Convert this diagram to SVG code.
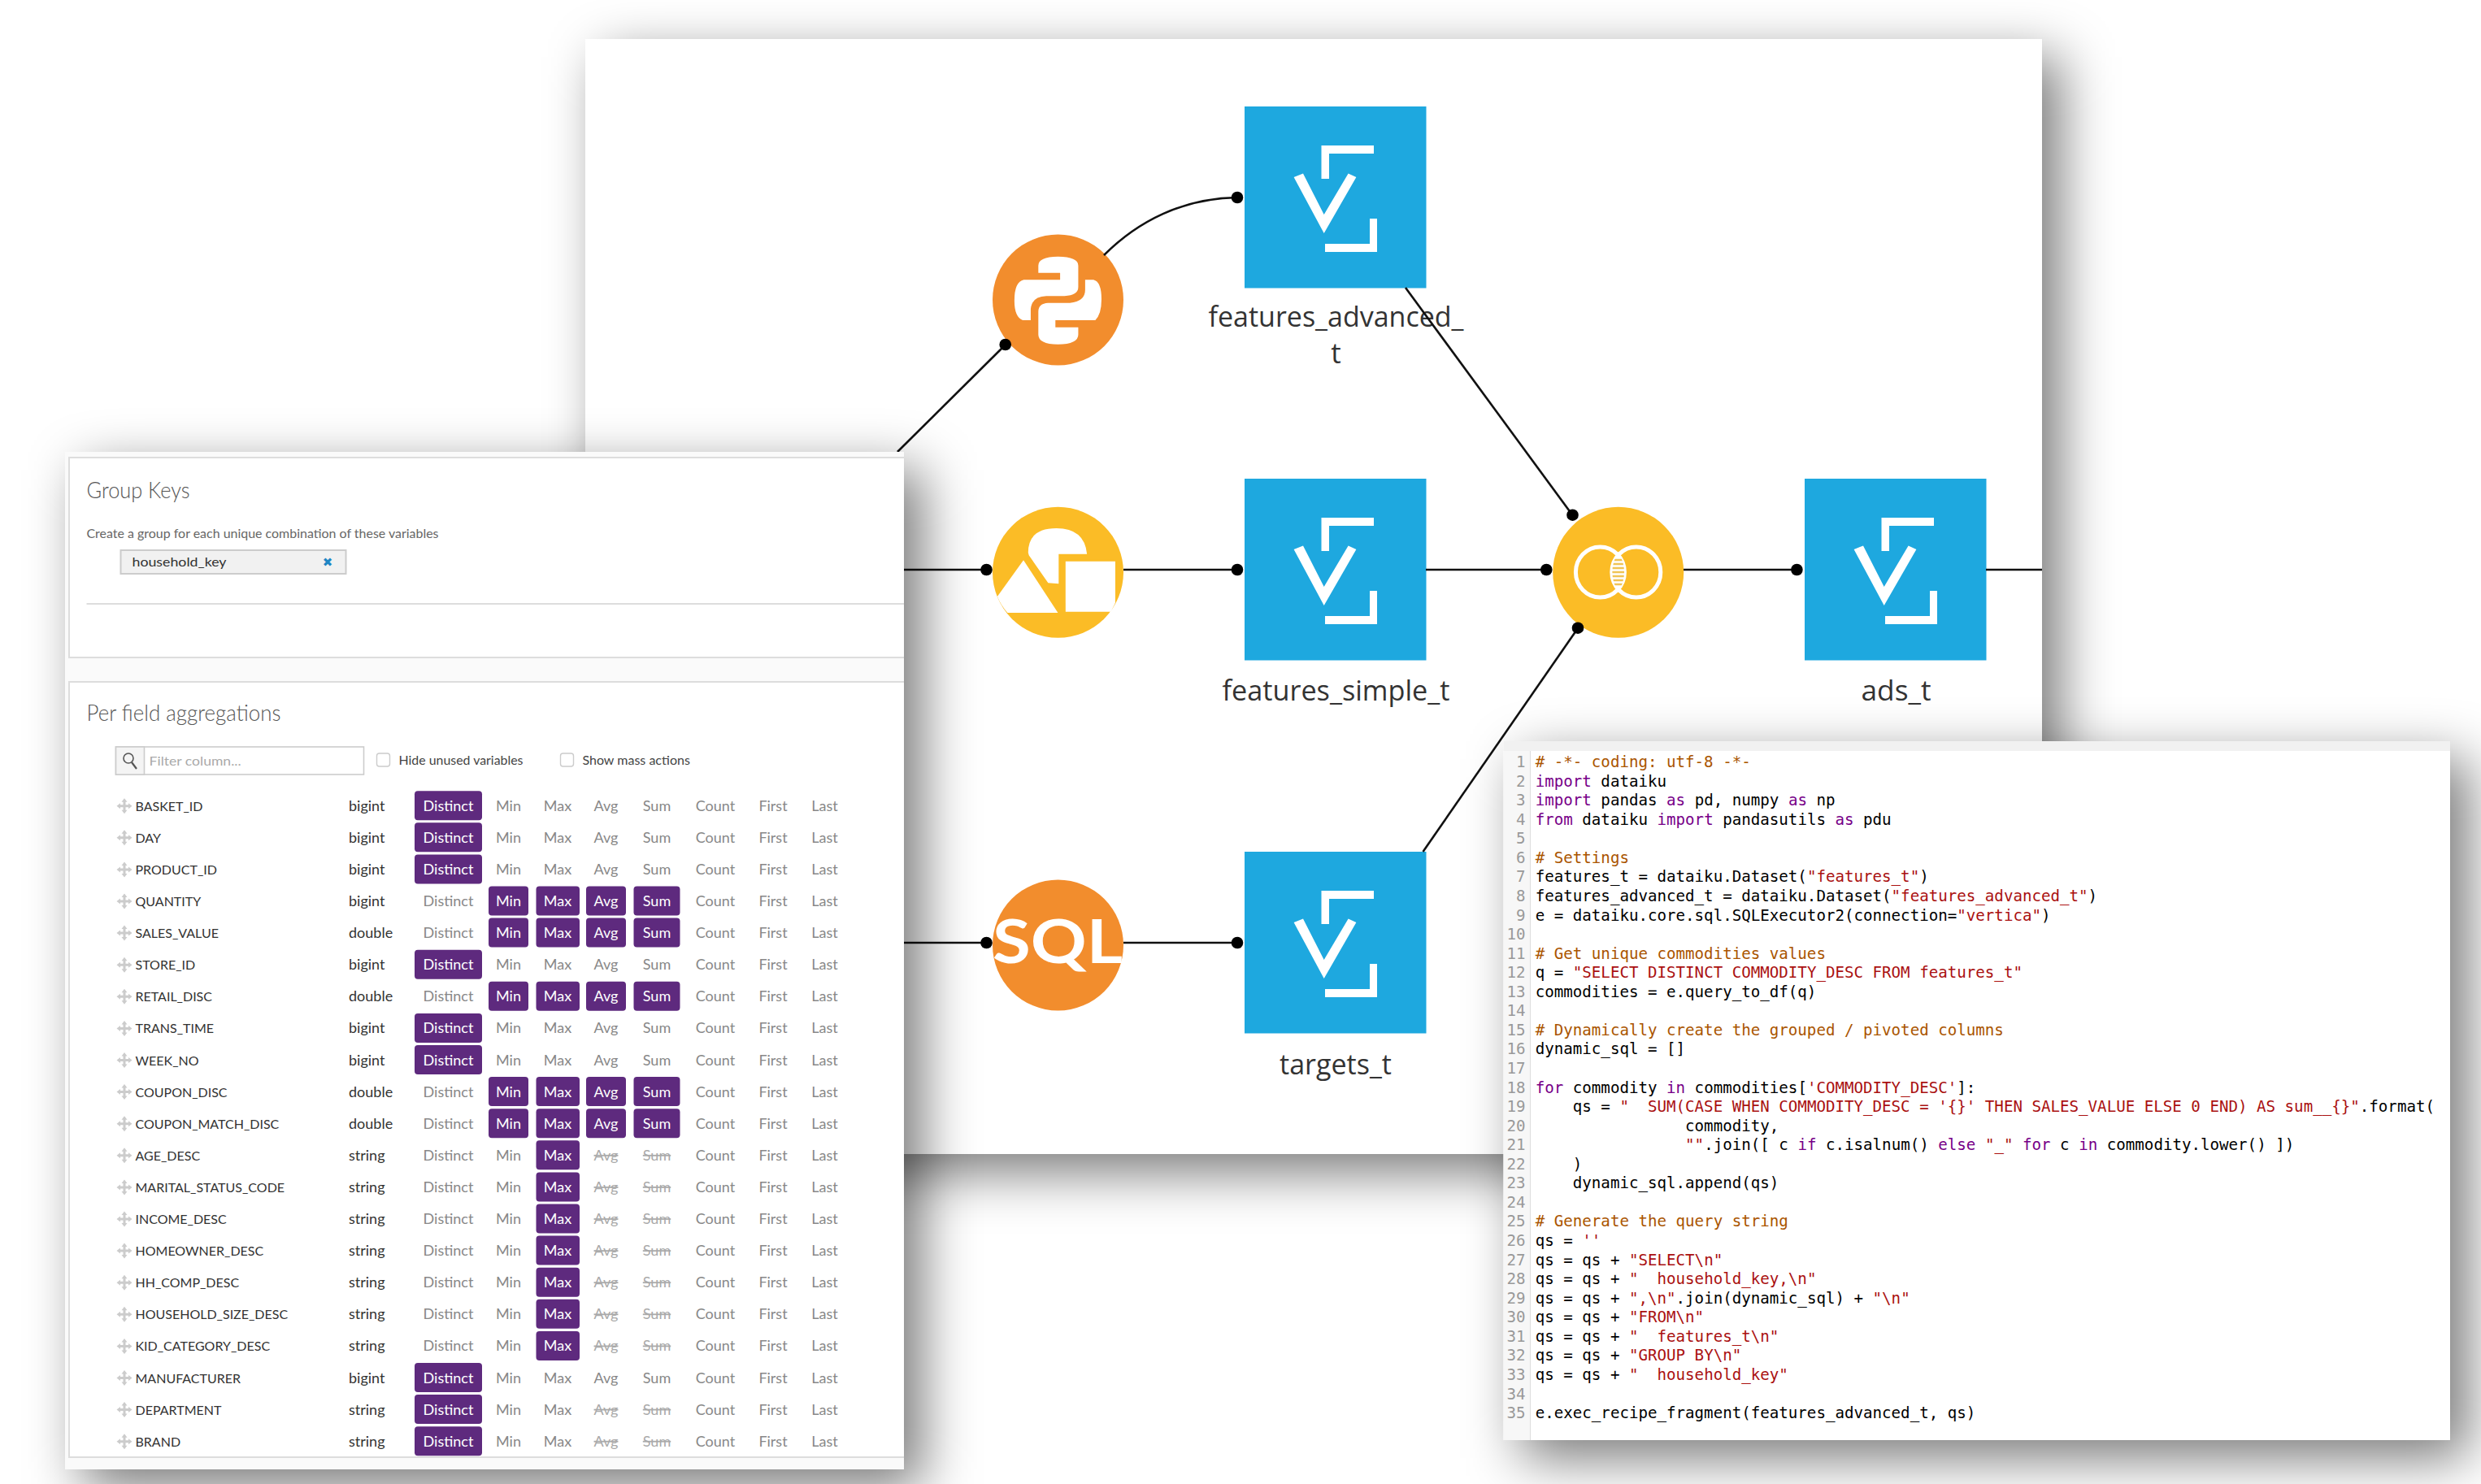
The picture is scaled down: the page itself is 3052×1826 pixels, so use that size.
<svg xmlns="http://www.w3.org/2000/svg" width="3052" height="1826" viewBox="0 0 3052 1826">
<style>
.lb{font-family:"Open Sans","Noto Sans",sans-serif;font-size:35px;fill:#333;text-anchor:middle}
.blue{fill:#1EA8DF}.wh{fill:#fff}.or{fill:#F28D2D}.ye{fill:#FBBC26}
.ln{fill:none;stroke:#111;stroke-width:2.6}
.dot{fill:#000}
.ui{font-family:Lato,"Noto Sans",sans-serif}
.h{font-family:Lato,"Noto Sans",sans-serif;font-weight:300;fill:#555;font-size:27px}
.t{font-family:Lato,"Noto Sans",sans-serif;fill:#444;font-size:16px}
.n{font-family:Lato,"Noto Sans",sans-serif;fill:#333;font-size:16px}
.ty{font-family:Lato,"Noto Sans",sans-serif;fill:#333;font-size:18px}
.o,.w,.s{font-family:Lato,"Noto Sans",sans-serif;font-size:18px;text-anchor:middle}
.o{fill:#888}.w{fill:#fff}.s{fill:#aaa;text-decoration:line-through}
.b{fill:#5E2A7E}
.bd{fill:none;stroke:#ddd;stroke-width:2}
.code{font-family:"DejaVu Sans Mono","Liberation Mono",monospace;font-size:19.15px;fill:#000;white-space:pre}
.g{font-family:"DejaVu Sans Mono","Liberation Mono",monospace;font-size:19.15px;fill:#999;text-anchor:end}
.cm{fill:#a50}.kw{fill:#708}.st{fill:#a11}
</style>
<defs>
<filter id="sh" x="-20%" y="-20%" width="140%" height="140%" color-interpolation-filters="sRGB"><feGaussianBlur stdDeviation="33"/></filter>
<g id="ds"><rect class="blue" width="223.5" height="223.5"/><path class="wh" d="M94.5,48H159V58H104V89H94.5ZM60.6,87L72,82.5L97.7,133L127.6,82.5L137.4,87L97.7,156ZM154,138H163V179H99V169H154Z"/></g>
<path id="mv" fill="#ccc" d="M-1.5,-5H-3.5L0,-9.5L3.5,-5H1.5V-1.5H5V-3.5L9.5,0L5,3.5V1.5H1.5V5H3.5L0,9.5L-3.5,5H-1.5V1.5H-5V3.5L-9.5,0L-5,-3.5V-1.5H-1.5Z"/>
<clipPath id="lens"><path d="M1990.7,679Q1976,704 1990.7,729Q2005.4,704 1990.7,679Z"/></clipPath>
</defs>
<rect width="3052" height="1826" fill="#fff"/>
<g id="flow-panel">
<rect x="742" y="70" width="1792" height="1372" fill="#000" fill-opacity=".53" filter="url(#sh)"/>
<rect x="720" y="48" width="1792" height="1372" fill="#fff"/>
</g>
<g id="nodes">
<g id="node-python"><circle class="or" cx="1301.5" cy="369" r="80.5"/>
<g transform="translate(1180,100) scale(.4464,.3333)"><path class="wh" d="M218,707V680Q218,648 272,647Q328,648 328,680V760Q328,790 290,793H240Q200,795 197,840V882H175Q152,870 152,810Q152,740 178,733H278V707Z"/><path class="wh" d="M265,908V882H375Q392,860 392,805Q392,740 370,733H347V770Q347,812 305,818H245Q218,820 218,850V935Q218,970 272,971Q328,970 328,935V908Z"/></g></g>
<g id="node-shapes"><circle class="ye" cx="1301.5" cy="704.3" r="80.5"/>
<g transform="translate(1180,580) scale(.4464,.3333)"><path class="wh" d="M190,300Q190,210 268,210Q345,210 352,305H274V415L245,412L192,310Z"/><path class="wh" d="M177,328L105,462Q115,495 133,522H272Z"/><path class="wh" d="M293,332H430V485L418,518H293Z"/></g></g>
<g id="node-sql"><circle class="or" cx="1301.5" cy="1163" r="80.5"/>
<text x="1221" y="1185" font-family="Lato,'Noto Sans',sans-serif" font-weight="700" font-size="74" fill="#fff" textLength="160" lengthAdjust="spacingAndGlyphs">SQL</text></g>
<g id="node-join"><circle class="ye" cx="1990.7" cy="704.3" r="80.5"/>
<ellipse cx="1968.4" cy="704" rx="30" ry="31" fill="none" stroke="#fff" stroke-width="5"/><ellipse cx="2012.8" cy="704" rx="30" ry="31" fill="none" stroke="#fff" stroke-width="5"/>
<g clip-path="url(#lens)"><rect x="1975" y="675" width="32" height="60" fill="#fff"/><path d="M1975,689H2007M1975,694H2007M1975,699H2007M1975,704H2007M1975,709H2007M1975,714H2007M1975,719H2007" stroke="#F0C455" stroke-width="2.6"/></g></g>
<g id="node-features-advanced"><use href="#ds" x="1531" y="131"/><text class="lb" x="1643.5" y="402" textLength="314" lengthAdjust="spacingAndGlyphs">features_advanced_</text><text class="lb" x="1643.5" y="447">t</text></g>
<g id="node-features-simple"><use href="#ds" x="1531" y="589"/><text class="lb" x="1643.5" y="862" textLength="280" lengthAdjust="spacingAndGlyphs">features_simple_t</text></g>
<g id="node-targets"><use href="#ds" x="1531" y="1048"/><text class="lb" x="1643" y="1322" textLength="138" lengthAdjust="spacingAndGlyphs">targets_t</text></g>
<g id="node-ads"><use href="#ds" x="2220" y="589"/><text class="lb" x="2332.5" y="862" textLength="86" lengthAdjust="spacingAndGlyphs">ads_t</text></g>
</g>
<g id="connectors">
<path class="ln" d="M1104,556L1237,424"/>
<path class="ln" d="M1358,314C1400,272 1455,244 1522,243"/>
<path class="ln" d="M1100,701H1213.5M1382,701H1522M1754,701H1903M2071,701H2210M2443,701H2512"/>
<path class="ln" d="M1100,1160H1213.5M1382,1160H1522"/>
<path class="ln" d="M1729,354L1934.5,634"/>
<path class="ln" d="M1750.5,1048L1941,773"/>
<circle class="dot" cx="1236.7" cy="424" r="7.3"/><circle class="dot" cx="1522" cy="243" r="7.3"/>
<circle class="dot" cx="1213.5" cy="701" r="7.3"/><circle class="dot" cx="1522" cy="701" r="7.3"/>
<circle class="dot" cx="1213.5" cy="1160" r="7.3"/><circle class="dot" cx="1522" cy="1160" r="7.3"/>
<circle class="dot" cx="1934.5" cy="633.7" r="7.3"/><circle class="dot" cx="1902.3" cy="701" r="7.3"/><circle class="dot" cx="1941" cy="772.7" r="7.3"/><circle class="dot" cx="2210.4" cy="701" r="7.3"/>
</g>
<g id="group-panel">
<rect x="102" y="578" width="1032" height="1252" fill="#000" fill-opacity=".53" filter="url(#sh)"/>
<rect x="80" y="556" width="1032" height="1252" fill="#fafafa"/>
<rect x="85" y="563" width="1027" height="246" fill="#fff"/><path class="bd" d="M1112,563H85V809H1112"/>
<rect x="85" y="839" width="1027" height="954" fill="#fff"/><path class="bd" d="M1112,839H85V1793H1112"/>
<text class="h" x="106.5" y="613" textLength="127" lengthAdjust="spacingAndGlyphs">Group Keys</text>
<text class="t" x="106.5" y="662" style="fill:#666" textLength="433" lengthAdjust="spacingAndGlyphs">Create a group for each unique combination of these variables</text>
<rect x="148.5" y="677" width="277" height="29" fill="#f1f1f1" stroke="#ccc" stroke-width="2"/>
<text class="n" x="162.5" y="697" textLength="116" lengthAdjust="spacingAndGlyphs">household_key</text>
<text x="403" y="697" font-family="'DejaVu Sans',sans-serif" font-size="15" fill="#1f86c4" text-anchor="middle">✖</text>
<path d="M106.5,743H1112" stroke="#ddd" stroke-width="2"/>
<text class="h" x="106.5" y="887" textLength="239" lengthAdjust="spacingAndGlyphs">Per field aggregations</text>
<rect x="142.5" y="919" width="305" height="34" fill="#fff" stroke="#ccc" stroke-width="1.6"/>
<path d="M142.5,919H177.5V953H142.5Z" fill="#f4f4f4" stroke="#ccc" stroke-width="1.6"/>
<circle cx="158" cy="933" r="6" fill="none" stroke="#555" stroke-width="1.6"/><path d="M162,938L168,946" stroke="#555" stroke-width="2.2"/>
<text class="t" x="183.6" y="942" style="fill:#aaa" textLength="113" lengthAdjust="spacingAndGlyphs">Filter column...</text>
<rect x="463.5" y="927" width="16" height="16" rx="3" fill="#fff" stroke="#ccc" stroke-width="1.4"/>
<text class="t" x="490.5" y="941" textLength="153" lengthAdjust="spacingAndGlyphs">Hide unused variables</text>
<rect x="689.5" y="927" width="16" height="16" rx="3" fill="#fff" stroke="#ccc" stroke-width="1.4"/>
<text class="t" x="716.4" y="941" textLength="132.5" lengthAdjust="spacingAndGlyphs">Show mass actions</text>

<g id="row-BASKET_ID" transform="translate(0,991.7)"><use href="#mv" x="153"/><text class="n" x="166.5" y="6">BASKET_ID</text><text class="ty" x="429" y="6">bigint</text><rect class="b" x="510" y="-18.5" width="83" height="36" rx="4"/><text class="w" x="551.5" y="6">Distinct</text><text class="o" x="625.5" y="6">Min</text><text class="o" x="686" y="6">Max</text><text class="o" x="745.5" y="6">Avg</text><text class="o" x="808" y="6">Sum</text><text class="o" x="880" y="6">Count</text><text class="o" x="951" y="6">First</text><text class="o" x="1014.5" y="6">Last</text></g>
<g id="row-DAY" transform="translate(0,1030.8)"><use href="#mv" x="153"/><text class="n" x="166.5" y="6">DAY</text><text class="ty" x="429" y="6">bigint</text><rect class="b" x="510" y="-18.5" width="83" height="36" rx="4"/><text class="w" x="551.5" y="6">Distinct</text><text class="o" x="625.5" y="6">Min</text><text class="o" x="686" y="6">Max</text><text class="o" x="745.5" y="6">Avg</text><text class="o" x="808" y="6">Sum</text><text class="o" x="880" y="6">Count</text><text class="o" x="951" y="6">First</text><text class="o" x="1014.5" y="6">Last</text></g>
<g id="row-PRODUCT_ID" transform="translate(0,1069.9)"><use href="#mv" x="153"/><text class="n" x="166.5" y="6">PRODUCT_ID</text><text class="ty" x="429" y="6">bigint</text><rect class="b" x="510" y="-18.5" width="83" height="36" rx="4"/><text class="w" x="551.5" y="6">Distinct</text><text class="o" x="625.5" y="6">Min</text><text class="o" x="686" y="6">Max</text><text class="o" x="745.5" y="6">Avg</text><text class="o" x="808" y="6">Sum</text><text class="o" x="880" y="6">Count</text><text class="o" x="951" y="6">First</text><text class="o" x="1014.5" y="6">Last</text></g>
<g id="row-QUANTITY" transform="translate(0,1109)"><use href="#mv" x="153"/><text class="n" x="166.5" y="6">QUANTITY</text><text class="ty" x="429" y="6">bigint</text><text class="o" x="551.5" y="6">Distinct</text><rect class="b" x="601" y="-18.5" width="49" height="36" rx="4"/><text class="w" x="625.5" y="6">Min</text><rect class="b" x="659.5" y="-18.5" width="53.5" height="36" rx="4"/><text class="w" x="686" y="6">Max</text><rect class="b" x="721" y="-18.5" width="49" height="36" rx="4"/><text class="w" x="745.5" y="6">Avg</text><rect class="b" x="779.5" y="-18.5" width="57" height="36" rx="4"/><text class="w" x="808" y="6">Sum</text><text class="o" x="880" y="6">Count</text><text class="o" x="951" y="6">First</text><text class="o" x="1014.5" y="6">Last</text></g>
<g id="row-SALES_VALUE" transform="translate(0,1148.1)"><use href="#mv" x="153"/><text class="n" x="166.5" y="6">SALES_VALUE</text><text class="ty" x="429" y="6">double</text><text class="o" x="551.5" y="6">Distinct</text><rect class="b" x="601" y="-18.5" width="49" height="36" rx="4"/><text class="w" x="625.5" y="6">Min</text><rect class="b" x="659.5" y="-18.5" width="53.5" height="36" rx="4"/><text class="w" x="686" y="6">Max</text><rect class="b" x="721" y="-18.5" width="49" height="36" rx="4"/><text class="w" x="745.5" y="6">Avg</text><rect class="b" x="779.5" y="-18.5" width="57" height="36" rx="4"/><text class="w" x="808" y="6">Sum</text><text class="o" x="880" y="6">Count</text><text class="o" x="951" y="6">First</text><text class="o" x="1014.5" y="6">Last</text></g>
<g id="row-STORE_ID" transform="translate(0,1187.2)"><use href="#mv" x="153"/><text class="n" x="166.5" y="6">STORE_ID</text><text class="ty" x="429" y="6">bigint</text><rect class="b" x="510" y="-18.5" width="83" height="36" rx="4"/><text class="w" x="551.5" y="6">Distinct</text><text class="o" x="625.5" y="6">Min</text><text class="o" x="686" y="6">Max</text><text class="o" x="745.5" y="6">Avg</text><text class="o" x="808" y="6">Sum</text><text class="o" x="880" y="6">Count</text><text class="o" x="951" y="6">First</text><text class="o" x="1014.5" y="6">Last</text></g>
<g id="row-RETAIL_DISC" transform="translate(0,1226.3)"><use href="#mv" x="153"/><text class="n" x="166.5" y="6">RETAIL_DISC</text><text class="ty" x="429" y="6">double</text><text class="o" x="551.5" y="6">Distinct</text><rect class="b" x="601" y="-18.5" width="49" height="36" rx="4"/><text class="w" x="625.5" y="6">Min</text><rect class="b" x="659.5" y="-18.5" width="53.5" height="36" rx="4"/><text class="w" x="686" y="6">Max</text><rect class="b" x="721" y="-18.5" width="49" height="36" rx="4"/><text class="w" x="745.5" y="6">Avg</text><rect class="b" x="779.5" y="-18.5" width="57" height="36" rx="4"/><text class="w" x="808" y="6">Sum</text><text class="o" x="880" y="6">Count</text><text class="o" x="951" y="6">First</text><text class="o" x="1014.5" y="6">Last</text></g>
<g id="row-TRANS_TIME" transform="translate(0,1265.4)"><use href="#mv" x="153"/><text class="n" x="166.5" y="6">TRANS_TIME</text><text class="ty" x="429" y="6">bigint</text><rect class="b" x="510" y="-18.5" width="83" height="36" rx="4"/><text class="w" x="551.5" y="6">Distinct</text><text class="o" x="625.5" y="6">Min</text><text class="o" x="686" y="6">Max</text><text class="o" x="745.5" y="6">Avg</text><text class="o" x="808" y="6">Sum</text><text class="o" x="880" y="6">Count</text><text class="o" x="951" y="6">First</text><text class="o" x="1014.5" y="6">Last</text></g>
<g id="row-WEEK_NO" transform="translate(0,1304.5)"><use href="#mv" x="153"/><text class="n" x="166.5" y="6">WEEK_NO</text><text class="ty" x="429" y="6">bigint</text><rect class="b" x="510" y="-18.5" width="83" height="36" rx="4"/><text class="w" x="551.5" y="6">Distinct</text><text class="o" x="625.5" y="6">Min</text><text class="o" x="686" y="6">Max</text><text class="o" x="745.5" y="6">Avg</text><text class="o" x="808" y="6">Sum</text><text class="o" x="880" y="6">Count</text><text class="o" x="951" y="6">First</text><text class="o" x="1014.5" y="6">Last</text></g>
<g id="row-COUPON_DISC" transform="translate(0,1343.6)"><use href="#mv" x="153"/><text class="n" x="166.5" y="6">COUPON_DISC</text><text class="ty" x="429" y="6">double</text><text class="o" x="551.5" y="6">Distinct</text><rect class="b" x="601" y="-18.5" width="49" height="36" rx="4"/><text class="w" x="625.5" y="6">Min</text><rect class="b" x="659.5" y="-18.5" width="53.5" height="36" rx="4"/><text class="w" x="686" y="6">Max</text><rect class="b" x="721" y="-18.5" width="49" height="36" rx="4"/><text class="w" x="745.5" y="6">Avg</text><rect class="b" x="779.5" y="-18.5" width="57" height="36" rx="4"/><text class="w" x="808" y="6">Sum</text><text class="o" x="880" y="6">Count</text><text class="o" x="951" y="6">First</text><text class="o" x="1014.5" y="6">Last</text></g>
<g id="row-COUPON_MATCH_DISC" transform="translate(0,1382.7)"><use href="#mv" x="153"/><text class="n" x="166.5" y="6">COUPON_MATCH_DISC</text><text class="ty" x="429" y="6">double</text><text class="o" x="551.5" y="6">Distinct</text><rect class="b" x="601" y="-18.5" width="49" height="36" rx="4"/><text class="w" x="625.5" y="6">Min</text><rect class="b" x="659.5" y="-18.5" width="53.5" height="36" rx="4"/><text class="w" x="686" y="6">Max</text><rect class="b" x="721" y="-18.5" width="49" height="36" rx="4"/><text class="w" x="745.5" y="6">Avg</text><rect class="b" x="779.5" y="-18.5" width="57" height="36" rx="4"/><text class="w" x="808" y="6">Sum</text><text class="o" x="880" y="6">Count</text><text class="o" x="951" y="6">First</text><text class="o" x="1014.5" y="6">Last</text></g>
<g id="row-AGE_DESC" transform="translate(0,1421.8)"><use href="#mv" x="153"/><text class="n" x="166.5" y="6">AGE_DESC</text><text class="ty" x="429" y="6">string</text><text class="o" x="551.5" y="6">Distinct</text><text class="o" x="625.5" y="6">Min</text><rect class="b" x="659.5" y="-18.5" width="53.5" height="36" rx="4"/><text class="w" x="686" y="6">Max</text><text class="s" x="745.5" y="6">Avg</text><text class="s" x="808" y="6">Sum</text><text class="o" x="880" y="6">Count</text><text class="o" x="951" y="6">First</text><text class="o" x="1014.5" y="6">Last</text></g>
<g id="row-MARITAL_STATUS_CODE" transform="translate(0,1460.9)"><use href="#mv" x="153"/><text class="n" x="166.5" y="6">MARITAL_STATUS_CODE</text><text class="ty" x="429" y="6">string</text><text class="o" x="551.5" y="6">Distinct</text><text class="o" x="625.5" y="6">Min</text><rect class="b" x="659.5" y="-18.5" width="53.5" height="36" rx="4"/><text class="w" x="686" y="6">Max</text><text class="s" x="745.5" y="6">Avg</text><text class="s" x="808" y="6">Sum</text><text class="o" x="880" y="6">Count</text><text class="o" x="951" y="6">First</text><text class="o" x="1014.5" y="6">Last</text></g>
<g id="row-INCOME_DESC" transform="translate(0,1500)"><use href="#mv" x="153"/><text class="n" x="166.5" y="6">INCOME_DESC</text><text class="ty" x="429" y="6">string</text><text class="o" x="551.5" y="6">Distinct</text><text class="o" x="625.5" y="6">Min</text><rect class="b" x="659.5" y="-18.5" width="53.5" height="36" rx="4"/><text class="w" x="686" y="6">Max</text><text class="s" x="745.5" y="6">Avg</text><text class="s" x="808" y="6">Sum</text><text class="o" x="880" y="6">Count</text><text class="o" x="951" y="6">First</text><text class="o" x="1014.5" y="6">Last</text></g>
<g id="row-HOMEOWNER_DESC" transform="translate(0,1539.1)"><use href="#mv" x="153"/><text class="n" x="166.5" y="6">HOMEOWNER_DESC</text><text class="ty" x="429" y="6">string</text><text class="o" x="551.5" y="6">Distinct</text><text class="o" x="625.5" y="6">Min</text><rect class="b" x="659.5" y="-18.5" width="53.5" height="36" rx="4"/><text class="w" x="686" y="6">Max</text><text class="s" x="745.5" y="6">Avg</text><text class="s" x="808" y="6">Sum</text><text class="o" x="880" y="6">Count</text><text class="o" x="951" y="6">First</text><text class="o" x="1014.5" y="6">Last</text></g>
<g id="row-HH_COMP_DESC" transform="translate(0,1578.2)"><use href="#mv" x="153"/><text class="n" x="166.5" y="6">HH_COMP_DESC</text><text class="ty" x="429" y="6">string</text><text class="o" x="551.5" y="6">Distinct</text><text class="o" x="625.5" y="6">Min</text><rect class="b" x="659.5" y="-18.5" width="53.5" height="36" rx="4"/><text class="w" x="686" y="6">Max</text><text class="s" x="745.5" y="6">Avg</text><text class="s" x="808" y="6">Sum</text><text class="o" x="880" y="6">Count</text><text class="o" x="951" y="6">First</text><text class="o" x="1014.5" y="6">Last</text></g>
<g id="row-HOUSEHOLD_SIZE_DESC" transform="translate(0,1617.3)"><use href="#mv" x="153"/><text class="n" x="166.5" y="6">HOUSEHOLD_SIZE_DESC</text><text class="ty" x="429" y="6">string</text><text class="o" x="551.5" y="6">Distinct</text><text class="o" x="625.5" y="6">Min</text><rect class="b" x="659.5" y="-18.5" width="53.5" height="36" rx="4"/><text class="w" x="686" y="6">Max</text><text class="s" x="745.5" y="6">Avg</text><text class="s" x="808" y="6">Sum</text><text class="o" x="880" y="6">Count</text><text class="o" x="951" y="6">First</text><text class="o" x="1014.5" y="6">Last</text></g>
<g id="row-KID_CATEGORY_DESC" transform="translate(0,1656.4)"><use href="#mv" x="153"/><text class="n" x="166.5" y="6">KID_CATEGORY_DESC</text><text class="ty" x="429" y="6">string</text><text class="o" x="551.5" y="6">Distinct</text><text class="o" x="625.5" y="6">Min</text><rect class="b" x="659.5" y="-18.5" width="53.5" height="36" rx="4"/><text class="w" x="686" y="6">Max</text><text class="s" x="745.5" y="6">Avg</text><text class="s" x="808" y="6">Sum</text><text class="o" x="880" y="6">Count</text><text class="o" x="951" y="6">First</text><text class="o" x="1014.5" y="6">Last</text></g>
<g id="row-MANUFACTURER" transform="translate(0,1695.5)"><use href="#mv" x="153"/><text class="n" x="166.5" y="6">MANUFACTURER</text><text class="ty" x="429" y="6">bigint</text><rect class="b" x="510" y="-18.5" width="83" height="36" rx="4"/><text class="w" x="551.5" y="6">Distinct</text><text class="o" x="625.5" y="6">Min</text><text class="o" x="686" y="6">Max</text><text class="o" x="745.5" y="6">Avg</text><text class="o" x="808" y="6">Sum</text><text class="o" x="880" y="6">Count</text><text class="o" x="951" y="6">First</text><text class="o" x="1014.5" y="6">Last</text></g>
<g id="row-DEPARTMENT" transform="translate(0,1734.6)"><use href="#mv" x="153"/><text class="n" x="166.5" y="6">DEPARTMENT</text><text class="ty" x="429" y="6">string</text><rect class="b" x="510" y="-18.5" width="83" height="36" rx="4"/><text class="w" x="551.5" y="6">Distinct</text><text class="o" x="625.5" y="6">Min</text><text class="o" x="686" y="6">Max</text><text class="s" x="745.5" y="6">Avg</text><text class="s" x="808" y="6">Sum</text><text class="o" x="880" y="6">Count</text><text class="o" x="951" y="6">First</text><text class="o" x="1014.5" y="6">Last</text></g>
<g id="row-BRAND" transform="translate(0,1773.7)"><use href="#mv" x="153"/><text class="n" x="166.5" y="6">BRAND</text><text class="ty" x="429" y="6">string</text><rect class="b" x="510" y="-18.5" width="83" height="36" rx="4"/><text class="w" x="551.5" y="6">Distinct</text><text class="o" x="625.5" y="6">Min</text><text class="o" x="686" y="6">Max</text><text class="s" x="745.5" y="6">Avg</text><text class="s" x="808" y="6">Sum</text><text class="o" x="880" y="6">Count</text><text class="o" x="951" y="6">First</text><text class="o" x="1014.5" y="6">Last</text></g>
</g>
<g id="code-panel">
<rect x="1871.5" y="934" width="1164.5" height="860" fill="#000" fill-opacity=".53" filter="url(#sh)"/>
<rect x="1849.5" y="912" width="1164.5" height="860" fill="#fff"/>
<rect x="1849.5" y="924" width="33" height="848" fill="#f7f7f7"/><path d="M1882.5,924V1772" stroke="#ddd" stroke-width="1"/>
<rect x="1849.5" y="912" width="1164.5" height="12" fill="#f1f1f1"/>
<text class="g" x="1876.5" y="944">1</text><text class="g" x="1876.5" y="967.6">2</text><text class="g" x="1876.5" y="991.1">3</text><text class="g" x="1876.5" y="1014.7">4</text><text class="g" x="1876.5" y="1038.2">5</text><text class="g" x="1876.5" y="1061.8">6</text><text class="g" x="1876.5" y="1085.4">7</text><text class="g" x="1876.5" y="1108.9">8</text><text class="g" x="1876.5" y="1132.5">9</text><text class="g" x="1876.5" y="1156">10</text><text class="g" x="1876.5" y="1179.6">11</text><text class="g" x="1876.5" y="1203.2">12</text><text class="g" x="1876.5" y="1226.7">13</text><text class="g" x="1876.5" y="1250.3">14</text><text class="g" x="1876.5" y="1273.8">15</text><text class="g" x="1876.5" y="1297.4">16</text><text class="g" x="1876.5" y="1321">17</text><text class="g" x="1876.5" y="1344.5">18</text><text class="g" x="1876.5" y="1368.1">19</text><text class="g" x="1876.5" y="1391.6">20</text><text class="g" x="1876.5" y="1415.2">21</text><text class="g" x="1876.5" y="1438.8">22</text><text class="g" x="1876.5" y="1462.3">23</text><text class="g" x="1876.5" y="1485.9">24</text><text class="g" x="1876.5" y="1509.4">25</text><text class="g" x="1876.5" y="1533">26</text><text class="g" x="1876.5" y="1556.6">27</text><text class="g" x="1876.5" y="1580.1">28</text><text class="g" x="1876.5" y="1603.7">29</text><text class="g" x="1876.5" y="1627.2">30</text><text class="g" x="1876.5" y="1650.8">31</text><text class="g" x="1876.5" y="1674.4">32</text><text class="g" x="1876.5" y="1697.9">33</text><text class="g" x="1876.5" y="1721.5">34</text><text class="g" x="1876.5" y="1745">35</text>
<text class="code cm" x="1888.7" y="944"># -*- coding: utf-8 -*-</text>
<text class="code" x="1888.7" y="967.6"><tspan class="kw">import</tspan> dataiku</text>
<text class="code" x="1888.7" y="991.1"><tspan class="kw">import</tspan> pandas <tspan class="kw">as</tspan> pd, numpy <tspan class="kw">as</tspan> np</text>
<text class="code" x="1888.7" y="1014.7"><tspan class="kw">from</tspan> dataiku <tspan class="kw">import</tspan> pandasutils <tspan class="kw">as</tspan> pdu</text>
<text class="code cm" x="1888.7" y="1061.8"># Settings</text>
<text class="code" x="1888.7" y="1085.4">features_t = dataiku.Dataset(<tspan class="st">"features_t"</tspan>)</text>
<text class="code" x="1888.7" y="1108.9">features_advanced_t = dataiku.Dataset(<tspan class="st">"features_advanced_t"</tspan>)</text>
<text class="code" x="1888.7" y="1132.5">e = dataiku.core.sql.SQLExecutor2(connection=<tspan class="st">"vertica"</tspan>)</text>
<text class="code cm" x="1888.7" y="1179.6"># Get unique commodities values</text>
<text class="code" x="1888.7" y="1203.2">q = <tspan class="st">"SELECT DISTINCT COMMODITY_DESC FROM features_t"</tspan></text>
<text class="code" x="1888.7" y="1226.7">commodities = e.query_to_df(q)</text>
<text class="code cm" x="1888.7" y="1273.8"># Dynamically create the grouped / pivoted columns</text>
<text class="code" x="1888.7" y="1297.4">dynamic_sql = []</text>
<text class="code" x="1888.7" y="1344.5"><tspan class="kw">for</tspan> commodity <tspan class="kw">in</tspan> commodities[<tspan class="st">'COMMODITY_DESC'</tspan>]:</text>
<text class="code" x="1888.7" y="1368.1">    qs = <tspan class="st">"  SUM(CASE WHEN COMMODITY_DESC = '{}' THEN SALES_VALUE ELSE 0 END) AS sum__{}"</tspan>.format(</text>
<text class="code" x="1888.7" y="1391.6">                commodity,</text>
<text class="code" x="1888.7" y="1415.2">                <tspan class="st">""</tspan>.join([ c <tspan class="kw">if</tspan> c.isalnum() <tspan class="kw">else</tspan> <tspan class="st">"_"</tspan> <tspan class="kw">for</tspan> c <tspan class="kw">in</tspan> commodity.lower() ])</text>
<text class="code" x="1888.7" y="1438.8">    )</text>
<text class="code" x="1888.7" y="1462.3">    dynamic_sql.append(qs)</text>
<text class="code cm" x="1888.7" y="1509.4"># Generate the query string</text>
<text class="code" x="1888.7" y="1533">qs = <tspan class="st">''</tspan></text>
<text class="code" x="1888.7" y="1556.6">qs = qs + <tspan class="st">"SELECT\n"</tspan></text>
<text class="code" x="1888.7" y="1580.1">qs = qs + <tspan class="st">"  household_key,\n"</tspan></text>
<text class="code" x="1888.7" y="1603.7">qs = qs + <tspan class="st">",\n"</tspan>.join(dynamic_sql) + <tspan class="st">"\n"</tspan></text>
<text class="code" x="1888.7" y="1627.2">qs = qs + <tspan class="st">"FROM\n"</tspan></text>
<text class="code" x="1888.7" y="1650.8">qs = qs + <tspan class="st">"  features_t\n"</tspan></text>
<text class="code" x="1888.7" y="1674.4">qs = qs + <tspan class="st">"GROUP BY\n"</tspan></text>
<text class="code" x="1888.7" y="1697.9">qs = qs + <tspan class="st">"  household_key"</tspan></text>
<text class="code" x="1888.7" y="1745">e.exec_recipe_fragment(features_advanced_t, qs)</text>
</g>
</svg>
